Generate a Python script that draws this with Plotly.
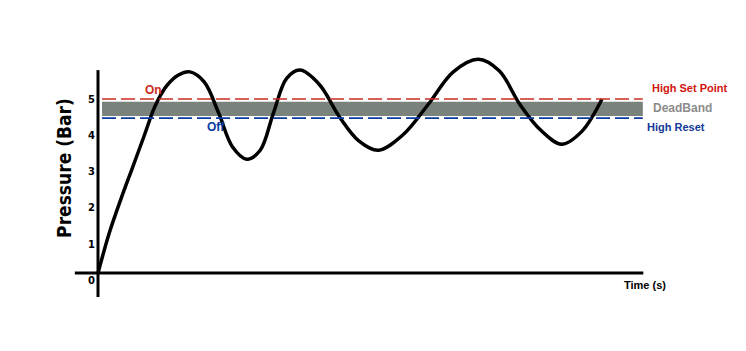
import plotly.graph_objects as go

# ---- data ----
time_s = [0, 2.28, 4.56, 6.85, 9.13, 11.40, 13.69, 15.97, 18.25,
          21.07, 23.90, 26.70, 29.50,
          32.15, 34.79, 37.43, 40.08,
          43.96, 47.85, 51.74, 55.62,
          60.58, 65.54, 70.50, 75.46,
          79.60, 83.73, 87.87, 92.00,
          96.00, 100]
pressure = [0, 1.17, 2.13, 3.03, 3.93, 4.82, 5.39, 5.69, 5.78,
            5.49, 4.61, 3.62, 3.27,
            3.52, 4.59, 5.59, 5.83,
            5.41, 4.50, 3.80, 3.53,
            3.98, 4.85, 5.78, 6.14,
            5.81, 4.84, 4.10, 3.70,
            4.07, 5.0]
high_set_point = 5.0
high_reset = 4.45
deadband = [4.51, 4.92]
tick_vals = [0, 1, 2, 3, 4, 5]
tick_text = ["0", "1", "2", "3", "4", "5"]

W, H = 746, 351
px_per_t = 5.04
px_per_v = 34.8
x0_px, y0_px = 98, 273
xr = [-x0_px / px_per_t, (W - x0_px) / px_per_t]
yr = [(y0_px - H) / px_per_v, y0_px / px_per_v]
# tick labels sit on a slightly different vertical grid in the reference
lab_y0, lab_k = 280.25, 36.25
yr2 = [(lab_y0 - H) / lab_k, lab_y0 / lab_k]

fig = go.Figure()
fig.add_trace(go.Scatter(x=time_s, y=pressure, mode="lines",
                         line=dict(color="black", width=3.5, shape="spline", smoothing=1.0,
                                   simplify=False),
                         hoverinfo="skip", showlegend=False))
fig.add_trace(go.Scatter(x=[None], y=[None], yaxis="y2", showlegend=False, hoverinfo="skip"))

line_start, line_end = 0.8, 108.1
shapes = [
    dict(type="rect", x0=line_start, x1=line_end, y0=deadband[0], y1=deadband[1],
         fillcolor="#7a827c", line=dict(width=0), layer="below"),
    dict(type="line", x0=line_start, x1=line_end, y0=high_set_point, y1=high_set_point,
         line=dict(color="#cc2b22", width=1.6, dash="14px,5px")),
    dict(type="line", x0=line_start, x1=line_end, y0=high_reset, y1=high_reset,
         line=dict(color="#0b3aa0", width=1.6, dash="14px,5px")),
    dict(type="line", x0=0, x1=0, y0=-0.69, y1=5.83, line=dict(color="black", width=3)),
    dict(type="line", x0=-4.6, x1=108.2, y0=0, y1=0, line=dict(color="black", width=3)),
]

lab = "Liberation Sans"
def note(x, y, text, color, size=11, xanchor="left"):
    return dict(x=x, y=y, text="<b>%s</b>" % text, showarrow=False, xanchor=xanchor,
                font=dict(family=lab, size=size, color=color))

annotations = [
    dict(x=-6.75, y=3.02, text="<b>Pressure (Bar)</b>", textangle=-90, showarrow=False,
         font=dict(family="DejaVu Sans Condensed, DejaVu Sans", size=19, color="black")),
    note(8.93, 5.26, "On", "#cc2b22", size=12),
    note(21.23, 4.20, "Off", "#0b3aa0", size=12),
    note(109.52, 5.32, "High Set Point", "#d0140e"),
    note(109.72, 4.74, "DeadBand", "#8c8c8c", size=12),
    note(108.53, 4.20, "High Reset", "#12389a"),
    note(103.97, -0.345, "Time (s)", "black"),
]

fig.update_layout(
    width=W, height=H, margin=dict(l=0, r=0, t=0, b=0),
    paper_bgcolor="white", plot_bgcolor="white",
    shapes=shapes, annotations=annotations,
    xaxis=dict(range=xr, visible=False, fixedrange=True),
    yaxis=dict(range=yr, visible=False, fixedrange=True),
    yaxis2=dict(range=yr2, overlaying="y", anchor="free", position=x0_px / W, side="left",
                showgrid=False, zeroline=False, showline=False, ticks="",
                tickvals=tick_vals, ticktext=["<b>%s</b>" % t for t in tick_text],
                tickfont=dict(family="DejaVu Sans", size=10, color="black"),
                ticklabelstandoff=3, fixedrange=True),
)
fig.write_html("out.html")
